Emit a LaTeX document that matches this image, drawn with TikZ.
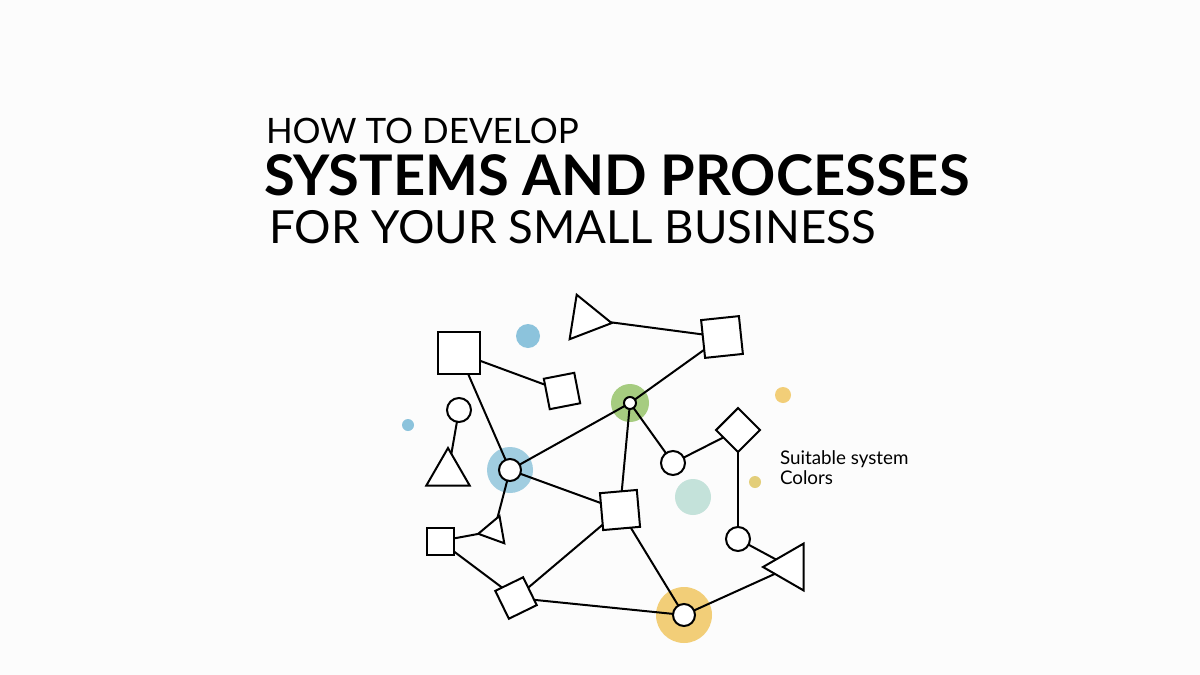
\documentclass[tikz,border=0pt]{standalone}
\usepackage{fontspec}
\setmainfont{Lato}
\usetikzlibrary{shapes.geometric}
\begin{document}
\begin{tikzpicture}[x=0.5pt,y=-0.5pt,line width=1pt,
  sq/.style={draw,fill=white,rectangle,inner sep=0,minimum size=#1},
  tri/.style={draw,fill=white,regular polygon,regular polygon sides=3,inner sep=0,minimum size=#1},
  circ/.style={draw,fill=white,circle,inner sep=0,minimum size=#1},
  halo/.style={circle,fill=#1,inner sep=0},
  edge/.style={line width=1pt}]
\definecolor{hblue}{RGB}{160,205,224}
\definecolor{hgreen}{RGB}{166,204,128}
\definecolor{hyellow}{RGB}{242,206,120}
\definecolor{hteal}{RGB}{196,226,218}
\definecolor{dblue}{RGB}{140,195,220}
\fill[white!99!black] (0,0) rectangle (1200,675);
\useasboundingbox (0,0) rectangle (1200,675);
% title
\node[anchor=base west,inner sep=0,font=\fontsize{17.5}{20}\selectfont] (t1) at (265,143) {HOW TO DEVELOP};
\node[anchor=base west,inner sep=0,font=\fontsize{28}{32}\selectfont\bfseries] (t2) at (263,195) {SYSTEMS AND PROCESSES};
\node[anchor=base west,inner sep=0,font=\fontsize{22.8}{26}\selectfont] (t3) at (268,243) {FOR YOUR SMALL BUSINESS};
\node[anchor=base west,inner sep=0,font=\fontsize{9.4}{10}\selectfont,align=left] (lab) at (779,484) {Suitable system\\Colors};
% decorative dots and halos
\node[halo=dblue,minimum size=12pt] (d1) at (528,336) {};
\node[halo=dblue,minimum size=6pt] (d2) at (408,425) {};
\node[halo=hyellow,minimum size=8pt] (d3) at (783,395) {};
\node[halo=hyellow!80!hgreen,minimum size=6pt] (d4) at (755,482) {};
\node[halo=hteal,minimum size=18pt] (d5) at (693,497) {};
\node[halo=hblue,minimum size=23pt] (hb) at (510,470) {};
\node[halo=hgreen,minimum size=19pt] (hg) at (630,403) {};
\node[halo=hyellow,minimum size=28pt] (hy) at (684,615) {};
% nodes
\coordinate (A) at (459,353);
\coordinate (T1) at (586,319);
\coordinate (S2) at (722,337);
\coordinate (S1) at (562,391);
\coordinate (G) at (630,403);
\coordinate (C1) at (459,410);
\coordinate (T2) at (448,473);
\coordinate (B) at (510,470);
\coordinate (D1) at (738,430);
\coordinate (C2) at (673,463);
\coordinate (S3) at (620,510);
\coordinate (T3) at (494,531);
\coordinate (S4) at (440,541);
\coordinate (D2) at (516,598);
\coordinate (Y) at (684,615);
\coordinate (C3) at (738,539);
\coordinate (T4) at (790,567);
% edges
\draw[edge] (T1) -- (S2);
\draw[edge] (S2) -- (G);
\draw[edge] (A) -- (S1);
\draw[edge] (A) -- (B);
\draw[edge] (C1) -- (T2);
\draw[edge] (B) -- (G);
\draw[edge] (B) -- (S3);
\draw[edge] (B) -- (T3);
\draw[edge] (G) -- (S3);
\draw[edge] (G) -- (C2);
\draw[edge] (C2) -- (D1);
\draw[edge] (D1) -- (C3);
\draw[edge] (C3) -- (T4);
\draw[edge] (T3) -- (S4);
\draw[edge] (S4) -- (D2);
\draw[edge] (D2) -- (S3);
\draw[edge] (D2) -- (Y);
\draw[edge] (S3) -- (Y);
\draw[edge] (Y) -- (T4);
% shapes
\node[sq=21pt] (nA) at (A) {};
\node[tri=26pt,rotate=-99] (nT1) at (T1) {};
\node[sq=19pt,rotate=6] (nS2) at (S2) {};
\node[sq=15.5pt,rotate=11] (nS1) at (S1) {};
\node[circ=6pt] (nG) at (G) {};
\node[circ=12pt] (nC1) at (C1) {};
\node[tri=25pt] (nT2) at (T2) {};
\node[circ=11pt] (nB) at (B) {};
\node[sq=15.5pt,rotate=45] (nD1) at (D1) {};
\node[circ=12pt] (nC2) at (C2) {};
\node[sq=18.5pt,rotate=5] (nS3) at (S3) {};
\node[tri=16pt,rotate=100] (nT3) at (T3) {};
\node[sq=13.5pt] (nS4) at (S4) {};
\node[sq=15.5pt,rotate=26] (nD2) at (D2) {};
\node[circ=11pt] (nY) at (Y) {};
\node[circ=12pt] (nC3) at (C3) {};
\node[tri=27pt,rotate=90] (nT4) at (T4) {};
\end{tikzpicture}
\end{document}
